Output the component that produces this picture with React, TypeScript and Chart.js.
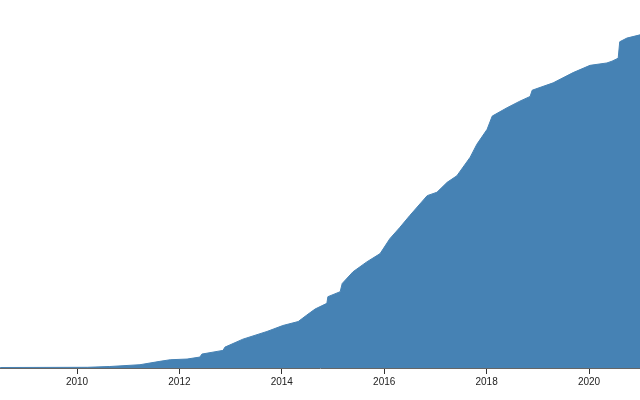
import React, { useEffect, useRef } from "react";
import { Chart, registerables } from "chart.js";

Chart.register(...registerables);

const years: number[] = [
  2008.5, 2010.2, 2010.64, 2011.23, 2011.62, 2011.82, 2012.15, 2012.4, 2012.44, 2012.85,
  2012.89, 2013.24, 2013.71, 2014.02, 2014.32, 2014.49, 2014.65, 2014.88, 2014.9, 2015.14,
  2015.18, 2015.39, 2015.66, 2015.92, 2016.11, 2016.3, 2016.5, 2016.84, 2017.03, 2017.23, 2017.42,
  2017.68, 2017.81, 2018.01, 2018.11, 2018.4, 2018.65, 2018.85, 2018.89, 2019.3, 2019.69,
  2020.02, 2020.35, 2020.45, 2020.57, 2020.6, 2020.74, 2021.0,
];

const counts: number[] = [
  0.5, 0.7, 1.5, 3.3, 6.7, 8.3, 9, 11, 14, 17.7,
  21, 29, 36.7, 42.7, 46.7, 53.3, 59.3, 65, 71.7, 76.7,
  85, 96.7, 106.7, 115, 130, 141, 153.3, 173.3, 176.7, 186.7, 193.3,
  212, 225, 240, 253.3, 261.7, 268.3, 273, 279.3, 286.7, 297,
  304.3, 306.7, 308.5, 311.5, 328, 331.7, 335,
];

const tickYears: number[] = [2010, 2012, 2014, 2016, 2018, 2020];

export default function App() {
  const ref = useRef<HTMLCanvasElement | null>(null);

  useEffect(() => {
    if (!ref.current) return;
    const chart = new Chart(ref.current, {
      type: "line",
      data: {
        datasets: [
          {
            data: years.map((y, i) => ({ x: y, y: counts[i] })),
            fill: "origin",
            backgroundColor: "#4682b4",
            borderColor: "#4682b4",
            borderWidth: 1,
            pointRadius: 0,
            tension: 0,
          },
        ],
      },
      options: {
        responsive: false,
        animation: false,
        layout: { padding: { left: 0, right: 0, top: 0, bottom: 10 } },
        plugins: { legend: { display: false }, tooltip: { enabled: false } },
        scales: {
          x: {
            type: "linear",
            min: 2008.496,
            max: 2020.996,
            afterBuildTicks: (scale: any) => {
              scale.ticks = tickYears.map((v) => ({ value: v }));
            },
            grid: {
              drawOnChartArea: false,
              drawTicks: true,
              tickLength: 6,
              color: "#333",
            },
            border: { display: true, color: "#666", width: 1 },
            ticks: {
              padding: 2,
              color: "#222",
              font: { family: "'Liberation Sans', Arial, sans-serif", size: 10 },
              maxRotation: 0,
              autoSkip: false,
              callback: (v: any) => String(v),
            },
          },
          y: {
            display: false,
            min: 0,
            max: 370,
          },
        },
      },
    });
    return () => chart.destroy();
  }, []);

  return (
    <div style={{ position: "absolute", left: 0, top: 0, width: 640, height: 400, background: "#fff" }}>
      <canvas ref={ref} width={640} height={400} style={{ display: "block" }} />
    </div>
  );
}
